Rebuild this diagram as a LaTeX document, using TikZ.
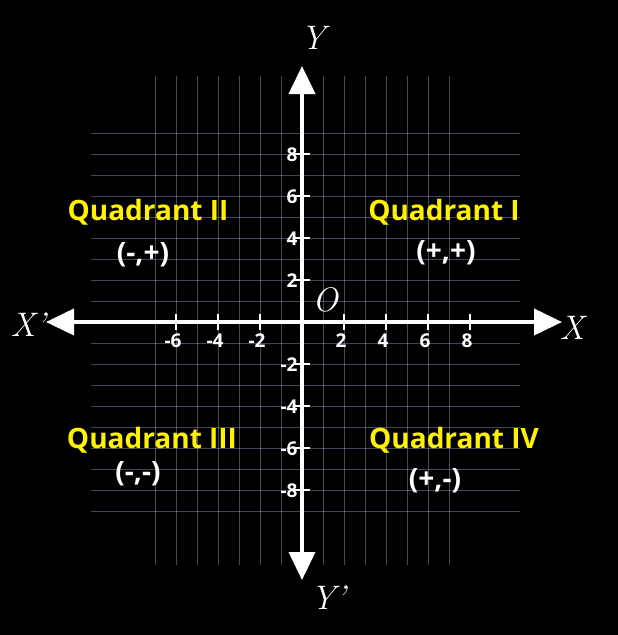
\documentclass[tikz,border=0pt]{standalone}
\usepackage{fontspec}
\setsansfont{Open Sans}
\usetikzlibrary{arrows.meta}
\begin{document}
\begin{tikzpicture}[x=1pt,y=-1pt,
  gridline/.style={draw=white!75!blue!80!gray,opacity=0.4,line width=0.8pt},
  axis/.style={draw=white,line width=4pt,-{Triangle[width=26pt,length=28pt]}},
  tick/.style={font=\sffamily\bfseries\fontsize{19}{19}\selectfont,text=white},
  quad/.style={font=\sffamily\bfseries\fontsize{28}{28}\selectfont,text=yellow},
  sign/.style={font=\sffamily\bfseries\fontsize{28}{28}\selectfont,text=white},
  axlabel/.style={font=\rmfamily\itshape\fontsize{34}{34}\selectfont,text=white}]
\fill[black] (0,0) rectangle (618,635);
\useasboundingbox (0,0) rectangle (618,635);
\foreach \k in {-9,...,9} \draw[gridline] (91,322+21*\k) -- (520,322+21*\k);
\foreach \k in {-7,...,7} \draw[gridline] (302+21*\k,76) -- (302+21*\k,565);
\coordinate (xl) at (46,322); \coordinate (xr) at (562,322);
\coordinate (yt) at (302,66); \coordinate (yb) at (302,580);
\coordinate (o) at (302,322);
\draw[axis] (o) -- (xr);
\draw[axis] (o) -- (xl);
\draw[axis] (o) -- (yt);
\draw[axis] (o) -- (yb);
\foreach \v in {-6,-4,-2,2,4,6,8} \draw[white,line width=2.5pt] (302+21*\v,314) -- (302+21*\v,330);
\foreach \v in {-8,-6,-4,-2,2,4,6,8} \draw[white,line width=2.5pt] (294,322-21*\v) -- (310,322-21*\v);
\foreach \v in {-6,-4,-2,2,4,6,8} \node[tick] (tx\v) at (302+21*\v-3,341) {\v};
\foreach \v in {8,6,4,2,-2,-4,-6,-8} \node[tick,anchor=east] (ty\v) at (301,322-21*\v+1) {\v};
\node[axlabel] (O) at (325,300) {O};
\node[axlabel] (X) at (572,328) {X};
\node[axlabel] (Xp) at (28,325) {X'};
\node[axlabel] (Y) at (313,38) {Y};
\node[axlabel] (Yp) at (328,598) {Y'};
\node[quad] (q1) at (444,212) {Quadrant I};
\node[quad] (q2) at (148,212) {Quadrant II};
\node[quad] (q3) at (152,440) {Quadrant III};
\node[quad] (q4) at (454,440) {Quadrant IV};
\node[sign] (s1) at (446,253) {(+,+)};
\node[sign] (s2) at (143,255) {(-,+)};
\node[sign] (s3) at (138,474) {(-,-)};
\node[sign] (s4) at (435,481) {(+,-)};
\end{tikzpicture}
\end{document}
